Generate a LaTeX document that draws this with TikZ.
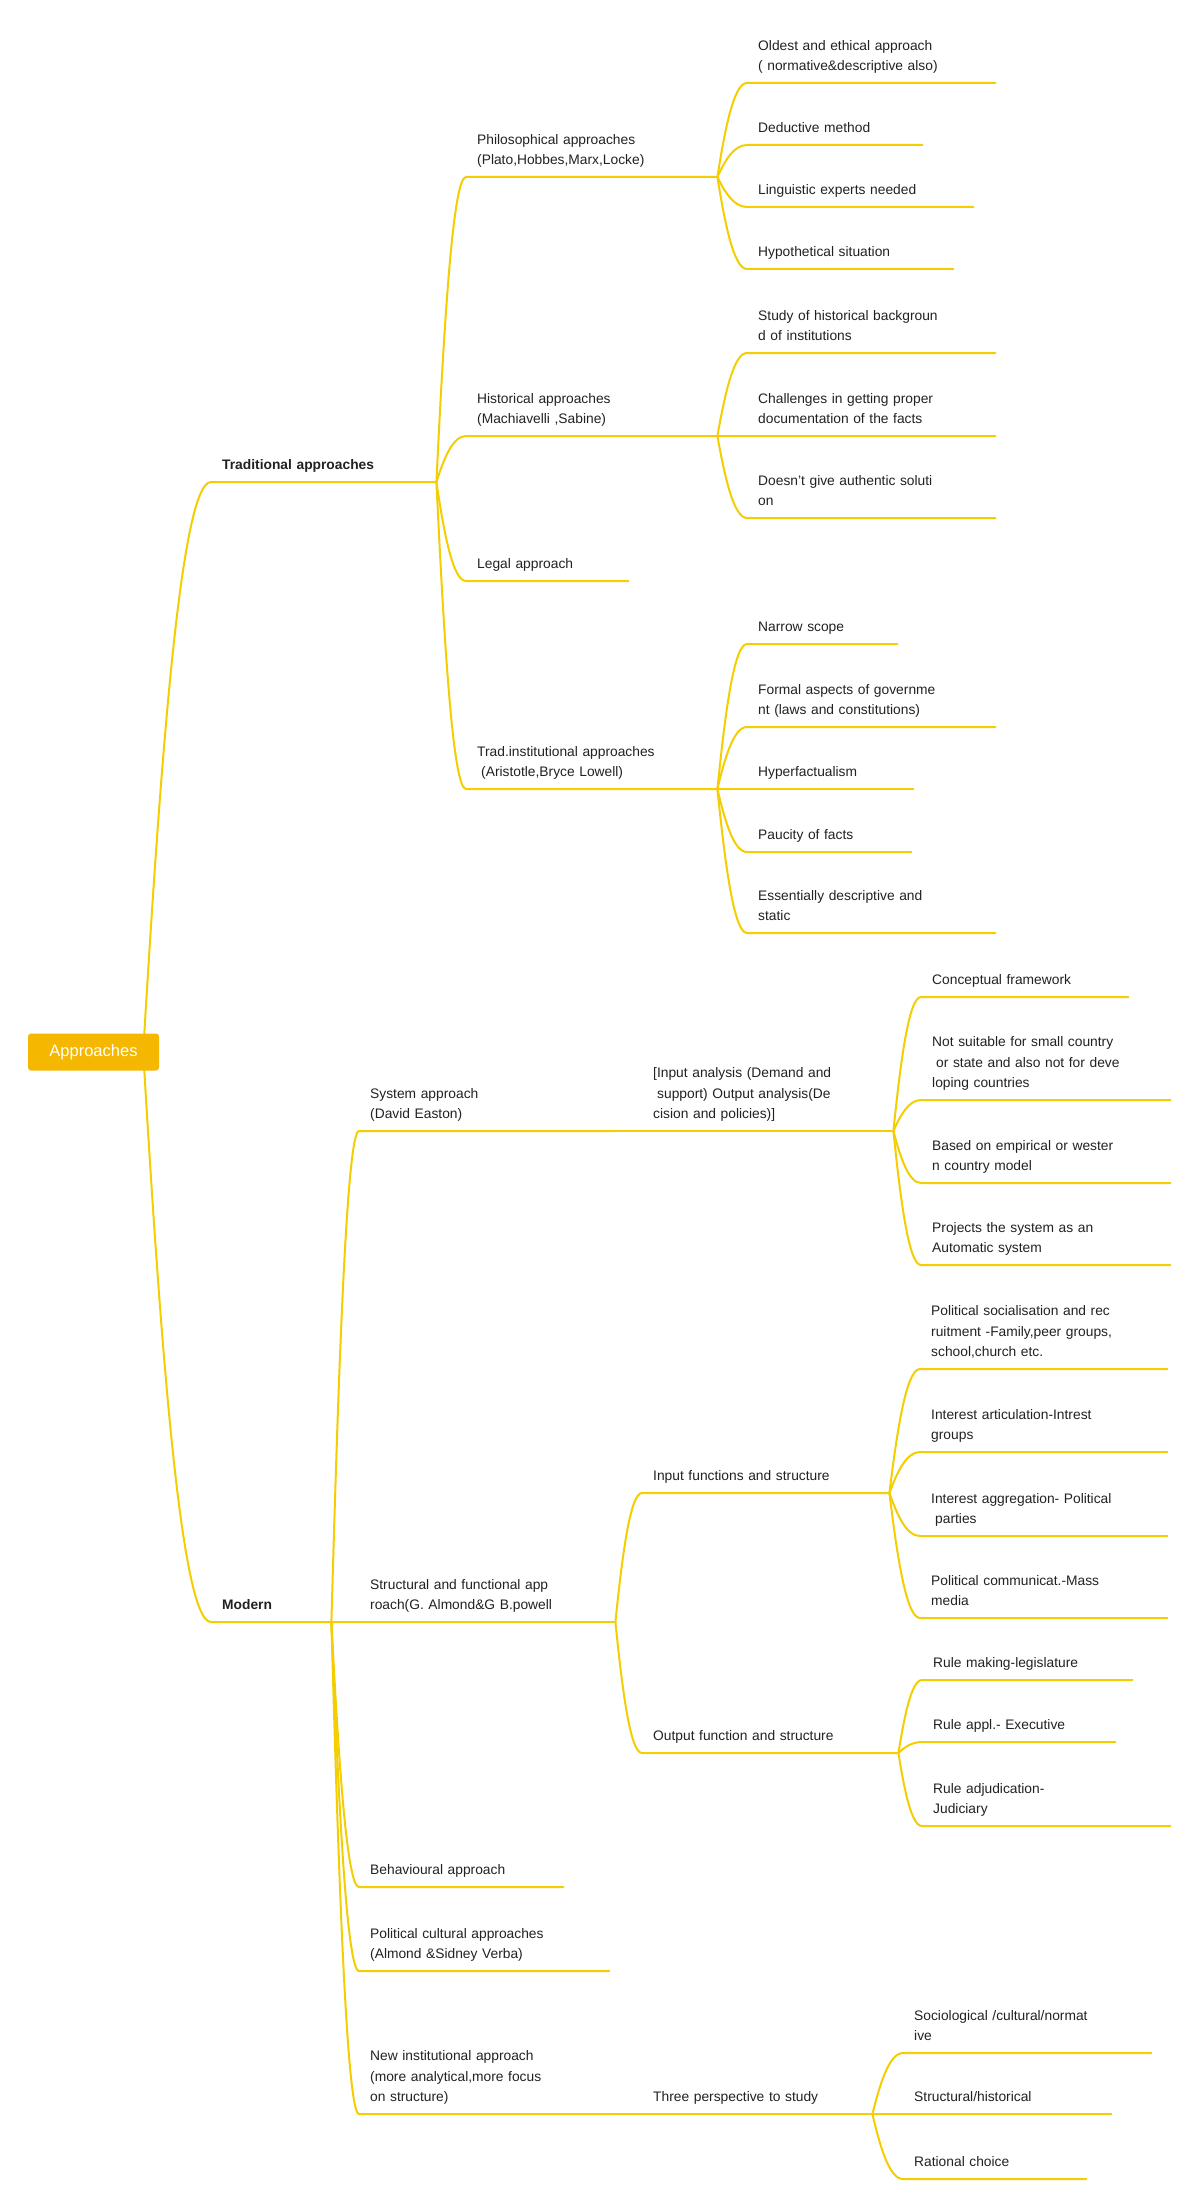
\documentclass[tikz,border=0pt]{standalone}
\usepackage{fontspec}
\setmainfont{Liberation Sans}
\usetikzlibrary{calc,backgrounds}
\definecolor{mapline}{RGB}{244,206,0}
\definecolor{mapbox}{RGB}{245,183,0}
\definecolor{maptext}{RGB}{34,34,34}

\begin{document}
\begin{tikzpicture}[x=1pt,y=-1pt,
  topic/.style={anchor=south west, align=left, text width=#1pt, inner xsep=11pt, inner ysep=6pt,
    text=maptext, font=\fontsize{13.8}{20.4}\selectfont, execute at end node=\strut},
  bigtopic/.style={topic=#1, font=\fontsize{13.8}{20.4}\selectfont\bfseries},
  branch/.style={draw=mapline, line width=2pt, line cap=round},
  curve/.style={to path={let \p1=(\tikztostart), \p2=(\tikztotarget) in
      .. controls ({\x1+0.25*(\x2-\x1)},{\y1+0.5*(\y2-\y1)}) and ({\x1+0.55*(\x2-\x1)},\y2) .. (\tikztotarget)}},
  rootbox/.style={fill=mapbox, text=white, rounded corners=3pt, minimum width=131pt,
    minimum height=37pt, inner sep=0pt, font=\fontsize{16.5}{20}\selectfont}]
  \useasboundingbox (0,0) rectangle (1200,2207);

  % traditional side
  \node[bigtopic=203] (trad) at (211,482) {Traditional approaches};
  \node[topic=229] (philo) at (466,177) {Philosophical approaches\\(Plato,Hobbes,Marx,Locke)};
  \node[topic=229] (hist) at (466,436) {Historical approaches\\(Machiavelli ,Sabine)};
  \node[topic=140] (legal) at (466,581) {Legal approach};
  \node[topic=229] (tradinst) at (466,789) {Trad.institutional approaches\\\hspace*{4pt}(Aristotle,Bryce Lowell)};

  \node[topic=226] (oldest) at (747,83) {Oldest and ethical approach\\( normative\&descriptive also)};
  \node[topic=153] (deduct) at (747,145) {Deductive method};
  \node[topic=204] (ling) at (747,207) {Linguistic experts needed};
  \node[topic=184] (hypo) at (747,269) {Hypothetical situation};

  \node[topic=226] (study) at (747,353) {Study of historical backgroun\\d of institutions};
  \node[topic=226] (challenge) at (747,436) {Challenges in getting proper\\documentation of the facts};
  \node[topic=226] (doesnt) at (747,518) {Doesn't give authentic soluti\\on};

  \node[topic=128] (narrow) at (747,644) {Narrow scope};
  \node[topic=226] (formal) at (747,727) {Formal aspects of governme\\nt (laws and constitutions)};
  \node[topic=144] (hyper) at (747,789) {Hyperfactualism};
  \node[topic=142] (paucity) at (747,852) {Paucity of facts};
  \node[topic=226] (essent) at (747,933) {Essentially descriptive and\\static};

  % modern side
  \node[bigtopic=98] (modern) at (211,1622) {Modern};
  \node[topic=234] (system) at (359,1131) {System approach\\(David Easton)};
  \node[topic=229] (inanal) at (642,1131) {[Input analysis (Demand and\\\hspace*{4pt}support) Output analysis(De\\cision and policies)]};
  \node[topic=185] (concept) at (921,997) {Conceptual framework};
  \node[topic=227] (notsuit) at (921,1100) {Not suitable for small country\\\hspace*{4pt}or state and also not for deve\\loping countries};
  \node[topic=227] (based) at (921,1183) {Based on empirical or wester\\n country model};
  \node[topic=227] (project) at (921,1265) {Projects the system as an\\Automatic system};

  \node[topic=234] (struct) at (359,1622) {Structural and functional app\\roach(G. Almond\&G B.powell};
  \node[topic=225] (infunc) at (642,1493) {Input functions and structure};
  \node[topic=234] (outfunc) at (642,1753) {Output function and structure};
  \node[topic=225] (polsoc) at (920,1369) {Political socialisation and rec\\ruitment -Family,peer groups,\\school,church etc.};
  \node[topic=225] (intart) at (920,1452) {Interest articulation-Intrest\\groups};
  \node[topic=225] (intagg) at (920,1536) {Interest aggregation- Political\\\hspace*{4pt}parties};
  \node[topic=225] (polcom) at (920,1618) {Political communicat.-Mass\\media};
  \node[topic=188] (rulemk) at (922,1680) {Rule making-legislature};
  \node[topic=171] (ruleap) at (922,1742) {Rule appl.- Executive};
  \node[topic=226] (ruleadj) at (922,1826) {Rule adjudication-\\Judiciary};

  \node[topic=182] (behav) at (359,1887) {Behavioural approach};
  \node[topic=228] (polcult) at (359,1971) {Political cultural approaches\\(Almond \&Sidney Verba)};
  \node[topic=234] (newinst) at (359,2114) {New institutional approach\\(more analytical,more focus\\on structure)};
  \node[topic=208] (three) at (642,2114) {Three perspective to study};
  \node[topic=226] (socio) at (903,2053) {Sociological /cultural/normat\\ive};
  \node[topic=186] (structhist) at (903,2114) {Structural/historical};
  \node[topic=161] (rational) at (903,2179) {Rational choice};

  \node[rootbox] (root) at (93.5,1052) {Approaches};
  \coordinate (rootc) at ($(root.east)+(-16,0)$);

  \begin{scope}[on background layer]
    \fill[white] (0,0) rectangle (1200,2207);
    \foreach \b in {trad,modern}
      \draw[branch] (rootc) to[curve] (\b.south west) -- (\b.south east);
  \end{scope}

  \foreach \a/\b in {trad/philo,trad/hist,trad/legal,trad/tradinst,
      philo/oldest,philo/deduct,philo/ling,philo/hypo,
      hist/study,hist/challenge,hist/doesnt,
      tradinst/narrow,tradinst/formal,tradinst/hyper,tradinst/paucity,tradinst/essent,
      modern/system,modern/struct,modern/behav,modern/polcult,modern/newinst,
      system/inanal,inanal/concept,inanal/notsuit,inanal/based,inanal/project,
      struct/infunc,struct/outfunc,
      infunc/polsoc,infunc/intart,infunc/intagg,infunc/polcom,
      outfunc/rulemk,outfunc/ruleap,outfunc/ruleadj,
      newinst/three,three/socio,three/structhist,three/rational}
    \draw[branch] (\a.south east) to[curve] (\b.south west) -- (\b.south east);
\end{tikzpicture}
\end{document}
